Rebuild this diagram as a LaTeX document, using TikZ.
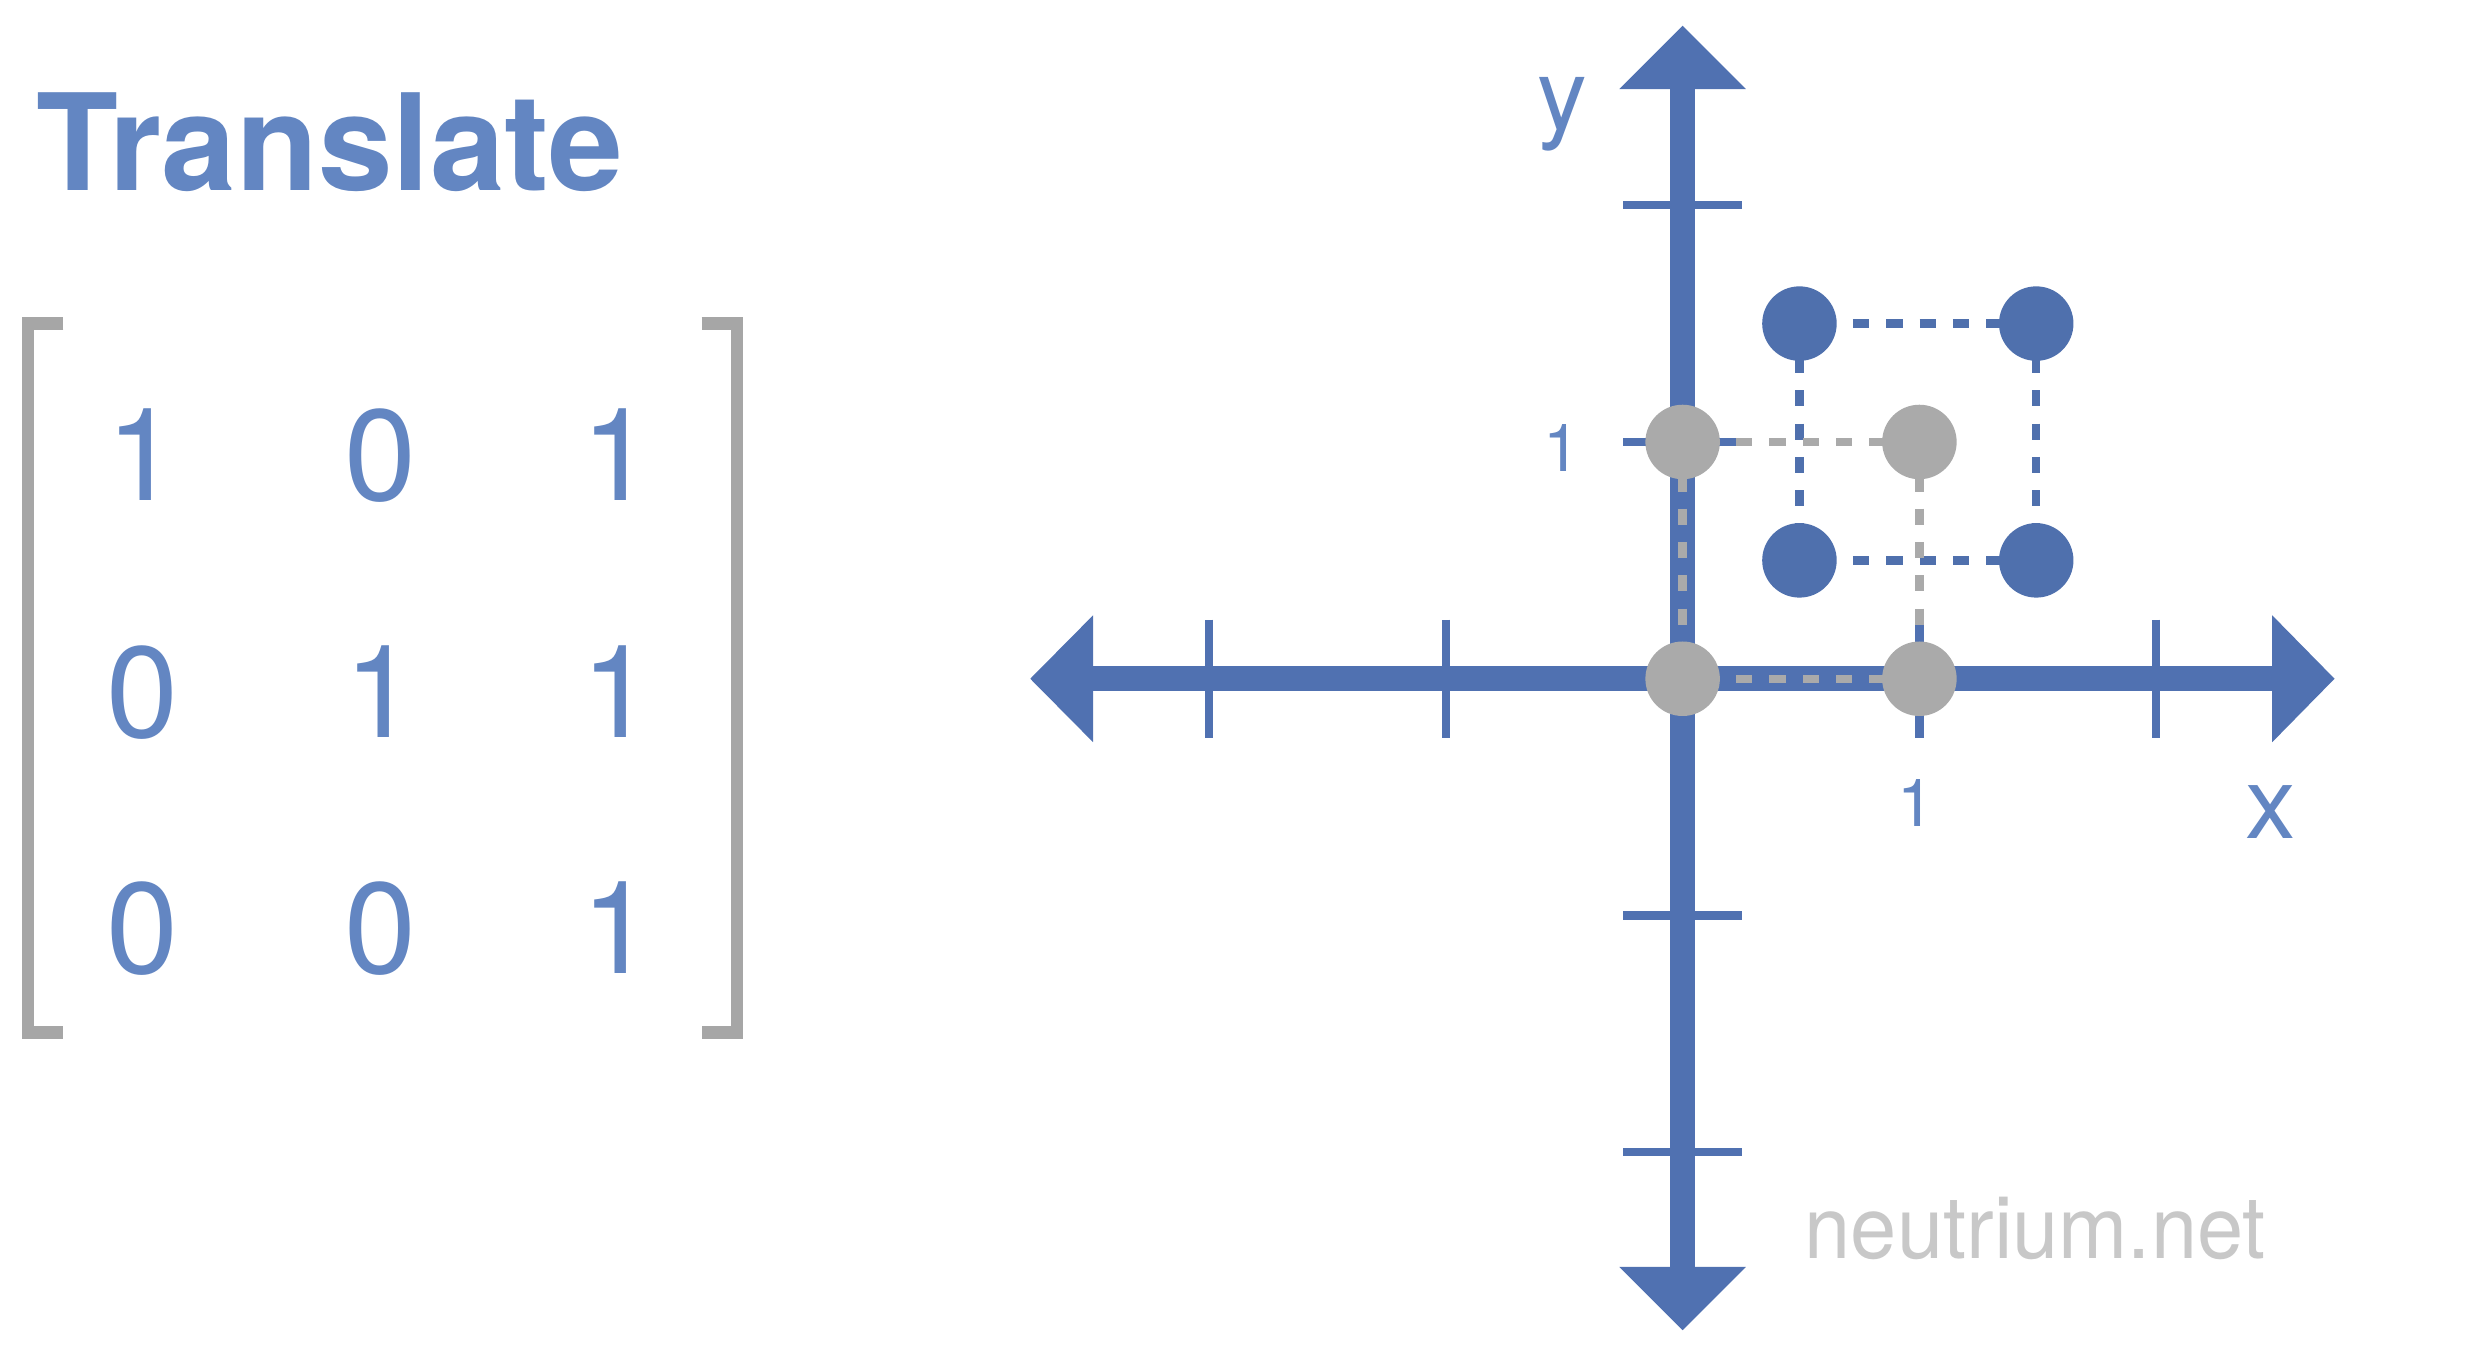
\documentclass[tikz,border=0pt]{standalone}
\usepackage{fontspec}
\setmainfont{TeX Gyre Heros}
\definecolor{axisblue}{RGB}{80,113,177}
\definecolor{dotblue}{RGB}{79,112,173}
\definecolor{textblue}{RGB}{99,134,194}
\definecolor{dotgray}{RGB}{170,170,170}
\definecolor{brgray}{RGB}{166,166,166}
\definecolor{wmgray}{RGB}{200,200,200}
\newcommand\fsz[1]{\fontsize{#1}{#1}\selectfont}
\begin{document}
\begin{tikzpicture}[x=1pt,y=-1pt,
  titletext/.style={anchor=base west,inner sep=0pt,text=textblue,font=\fsz{85}\bfseries},
  entry/.style={anchor=base,inner sep=0pt,text=textblue,font=\fsz{82}},
  lbl/.style={anchor=base,inner sep=0pt,text=textblue},
  wmtext/.style={anchor=base west,inner sep=0pt,text=wmgray,font=\fsz{55},xscale=0.957},
  bracketline/.style={draw=brgray,line width=7.8pt,miter limit=10,line join=miter},
  axisline/.style={draw=axisblue,line width=15.6pt},
  axishead/.style={fill=axisblue},
  tickline/.style={draw=axisblue,line width=5.3pt},
  bdash/.style={draw=dotblue,line width=5.3pt,dash pattern=on 10.3pt off 10.8pt},
  gdash/.style={draw=dotgray,line width=5.3pt,dash pattern=on 10.3pt off 10.8pt},
  hph/.style={dash phase=8.3pt},
  vph/.style={dash phase=0pt},
  bdot/.style={circle,fill=dotblue,inner sep=0pt,minimum size=47.2pt},
  gdot/.style={circle,fill=dotgray,inner sep=0pt,minimum size=47.2pt}]
\useasboundingbox (0,0) rectangle (1568,852);

% title
\node[titletext] (title) at (22.8,120.8) {Translate};

% matrix brackets
\draw[bracketline] (40.1,205) -- (17.8,205) -- (17.8,654.2) -- (40.1,654.2);
\draw[bracketline] (444.5,205) -- (467.1,205) -- (467.1,654.2) -- (444.5,654.2);

% matrix entries
\node[entry] (m11) at (90.5,317) {1};
\node[entry] (m12) at (241,317) {0};
\node[entry] (m13) at (391,317) {1};
\node[entry] (m21) at (90.5,467) {0};
\node[entry] (m22) at (241,467) {1};
\node[entry] (m23) at (391,467) {1};
\node[entry] (m31) at (90.5,617) {0};
\node[entry] (m32) at (241,617) {0};
\node[entry] (m33) at (391,617) {1};

% axes
\coordinate (O) at (1066,430);
\coordinate (xL) at (692.5,430);
\coordinate (xR) at (1439.5,430);
\coordinate (yT) at (1066,56.4);
\coordinate (yB) at (1066,802.6);
\draw[axisline] (xL) -- (xR);
\draw[axisline] (yT) -- (yB);
\fill[axishead] (652.7,430) -- (692.5,389.8) -- (692.5,470.2) -- cycle;
\fill[axishead] (1479,430) -- (1439.5,389.8) -- (1439.5,470.2) -- cycle;
\fill[axishead] (1066,16.3) -- (1025.9,56.4) -- (1106.1,56.4) -- cycle;
\fill[axishead] (1066,842.7) -- (1025.9,802.6) -- (1106.1,802.6) -- cycle;

% ticks
\foreach \tx in {766,916,1216,1366} \draw[tickline] (\tx,392.5) -- (\tx,467.5);
\foreach \ty in {130,280,580,730} \draw[tickline] (1028.5,\ty) -- (1103.5,\ty);

% labels
\node[lbl,font=\fsz{63}] (ylab) at (989.5,82) {y};
\node[lbl,font=\fsz{64}] (xlab) at (1438.7,531.5) {x};
\node[lbl,font=\fsz{42}] (oney) at (989.7,298.8) {1};
\node[lbl,font=\fsz{42}] (onex) at (1213.9,523.3) {1};

% translated square (blue)
\coordinate (b1) at (1140,205);
\coordinate (b2) at (1290,205);
\coordinate (b3) at (1140,355);
\coordinate (b4) at (1290,355);
\draw[bdash,hph] (b1) -- (b2);
\draw[bdash,hph] (b3) -- (b4);
\draw[bdash,vph] (b1) -- (b3);
\draw[bdash,vph] (b2) -- (b4);
\node[bdot] (bd1) at (b1) {};
\node[bdot] (bd2) at (b2) {};
\node[bdot] (bd3) at (b3) {};
\node[bdot] (bd4) at (b4) {};

% original square (gray)
\coordinate (g1) at (1066,280);
\coordinate (g2) at (1216,280);
\coordinate (g3) at (1066,430);
\coordinate (g4) at (1216,430);
\draw[gdash,hph] (g1) -- (g2);
\draw[gdash,hph] (g3) -- (g4);
\draw[gdash,vph] (g1) -- (g3);
\draw[gdash,vph] (g2) -- (g4);
\node[gdot] (gd1) at (g1) {};
\node[gdot] (gd2) at (g2) {};
\node[gdot] (gd3) at (g3) {};
\node[gdot] (gd4) at (g4) {};

% watermark
\node[wmtext] (wm) at (1143.2,797.2) {neutrium.net};
\end{tikzpicture}
\end{document}
